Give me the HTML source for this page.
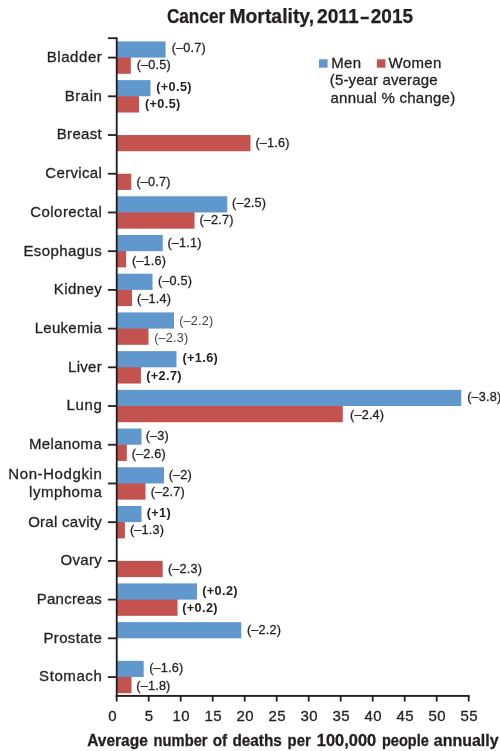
<!DOCTYPE html>
<html lang="en"><head><meta charset="utf-8"><title>Cancer Mortality, 2011–2015</title>
<style>
html,body{margin:0;padding:0;background:#fff;}
body{width:500px;height:751px;overflow:hidden;}
svg{display:block;}
text{font-family:"Liberation Sans",Arial,Helvetica,sans-serif;fill:#231f20;}
.cat,.tick,.leg,.lab{stroke:#231f20;stroke-width:0.3px;}
.cat{font-size:15.0px;letter-spacing:0.4px;text-anchor:end;}
.lab{font-size:12.7px;letter-spacing:0.18px;}
.labl{font-size:12.7px;letter-spacing:0.18px;fill:#444444;}
.labb{font-size:12.7px;font-weight:bold;letter-spacing:0.38px;}
.tick{font-size:15.0px;letter-spacing:0.4px;text-anchor:middle;}
.leg{font-size:15.0px;letter-spacing:0.4px;}
.title{font-size:20px;font-weight:bold;stroke:#231f20;stroke-width:0.25px;}

.xtitle{font-size:16.3px;font-weight:bold;stroke:#231f20;stroke-width:0.3px;}
</style></head><body>
<svg width="500" height="751" viewBox="0 0 500 751">
<rect x="0" y="0" width="500" height="751" fill="#ffffff"/>
<text class="title" y="22.8"><tspan x="166.9" textLength="58.3" lengthAdjust="spacingAndGlyphs">Cancer</tspan> <tspan x="229.4" textLength="84.7" lengthAdjust="spacingAndGlyphs">Mortality,</tspan> <tspan x="316.9" textLength="41.9" lengthAdjust="spacingAndGlyphs">2011</tspan><tspan x="360.2" textLength="8.9" lengthAdjust="spacingAndGlyphs">–</tspan><tspan x="370.8" textLength="42.3" lengthAdjust="spacingAndGlyphs">2015</tspan></text>
<rect x="117.0" y="57.00" width="13.80" height="16.80" fill="#c4524e"/>
<rect x="117.0" y="41.40" width="48.60" height="16.20" fill="#6097cd"/>
<text class="lab" x="171.70" y="51.80">(–0.7)</text>
<text class="lab" x="136.70" y="69.30">(–0.5)</text>
<rect x="107.9" y="56.70" width="8.6" height="1.8" fill="#231f20"/>
<text class="cat" x="102.35" y="62.00" style="letter-spacing:0.550px">Bladder</text>
<rect x="117.0" y="95.72" width="22.00" height="16.80" fill="#c4524e"/>
<rect x="117.0" y="80.11" width="33.50" height="16.20" fill="#6097cd"/>
<text class="labb" x="156.20" y="91.30">(+0.5)</text>
<text class="labb" x="144.95" y="108.05">(+0.5)</text>
<rect x="107.9" y="95.41" width="8.6" height="1.8" fill="#231f20"/>
<text class="cat" x="102.28" y="100.72" style="letter-spacing:0.480px">Brain</text>
<rect x="117.0" y="135.03" width="133.50" height="16.20" fill="#c4524e"/>
<text class="lab" x="255.45" y="147.05">(–1.6)</text>
<rect x="107.9" y="134.13" width="8.6" height="1.8" fill="#231f20"/>
<text class="cat" x="102.15" y="139.43" style="letter-spacing:0.350px">Breast</text>
<rect x="117.0" y="173.75" width="14.25" height="16.20" fill="#c4524e"/>
<text class="lab" x="136.45" y="185.55">(–0.7)</text>
<rect x="107.9" y="172.84" width="8.6" height="1.8" fill="#231f20"/>
<text class="cat" x="102.12" y="178.15" style="letter-spacing:0.320px">Cervical</text>
<rect x="117.0" y="211.86" width="77.50" height="16.80" fill="#c4524e"/>
<rect x="117.0" y="196.26" width="110.30" height="16.20" fill="#6097cd"/>
<text class="lab" x="232.00" y="206.55">(–2.5)</text>
<text class="lab" x="199.45" y="224.05">(–2.7)</text>
<rect x="107.9" y="211.56" width="8.6" height="1.8" fill="#231f20"/>
<text class="cat" x="102.24" y="216.86" style="letter-spacing:0.440px">Colorectal</text>
<rect x="117.0" y="250.58" width="9.10" height="16.80" fill="#c4524e"/>
<rect x="117.0" y="234.98" width="45.75" height="16.20" fill="#6097cd"/>
<text class="lab" x="167.45" y="247.30">(–1.1)</text>
<text class="lab" x="131.95" y="264.80">(–1.6)</text>
<rect x="107.9" y="250.28" width="8.6" height="1.8" fill="#231f20"/>
<text class="cat" x="102.21" y="255.58" style="letter-spacing:0.410px">Esophagus</text>
<rect x="117.0" y="289.29" width="15.00" height="16.80" fill="#c4524e"/>
<rect x="117.0" y="273.69" width="35.50" height="16.20" fill="#6097cd"/>
<text class="lab" x="157.95" y="285.30">(–0.5)</text>
<text class="lab" x="136.95" y="303.05">(–1.4)</text>
<rect x="107.9" y="288.99" width="8.6" height="1.8" fill="#231f20"/>
<text class="cat" x="102.25" y="294.29" style="letter-spacing:0.450px">Kidney</text>
<rect x="117.0" y="328.00" width="31.50" height="16.80" fill="#c4524e"/>
<rect x="117.0" y="312.41" width="57.00" height="16.20" fill="#6097cd"/>
<text class="labl" x="179.20" y="324.80">(–2.2)</text>
<text class="labl" x="154.20" y="341.80">(–2.3)</text>
<rect x="107.9" y="327.71" width="8.6" height="1.8" fill="#231f20"/>
<text class="cat" x="102.10" y="333.00" style="letter-spacing:0.300px">Leukemia</text>
<rect x="117.0" y="366.72" width="23.90" height="16.80" fill="#c4524e"/>
<rect x="117.0" y="351.12" width="59.50" height="16.20" fill="#6097cd"/>
<text class="labb" x="182.45" y="361.80">(+1.6)</text>
<text class="labb" x="146.20" y="379.80">(+2.7)</text>
<rect x="107.9" y="366.42" width="8.6" height="1.8" fill="#231f20"/>
<text class="cat" x="102.12" y="371.72" style="letter-spacing:0.320px">Liver</text>
<rect x="117.0" y="405.44" width="225.80" height="16.80" fill="#c4524e"/>
<rect x="117.0" y="389.84" width="344.25" height="16.20" fill="#6097cd"/>
<text class="lab" x="467.20" y="401.05">(–3.8)</text>
<text class="lab" x="350.00" y="419.30">(–2.4)</text>
<rect x="107.9" y="405.14" width="8.6" height="1.8" fill="#231f20"/>
<text class="cat" x="102.40" y="410.44" style="letter-spacing:0.600px">Lung</text>
<rect x="117.0" y="444.15" width="9.80" height="16.80" fill="#c4524e"/>
<rect x="117.0" y="428.55" width="24.50" height="16.20" fill="#6097cd"/>
<text class="lab" x="145.70" y="439.80">(–3)</text>
<text class="lab" x="131.70" y="457.55">(–2.6)</text>
<rect x="107.9" y="443.85" width="8.6" height="1.8" fill="#231f20"/>
<text class="cat" x="102.20" y="449.15" style="letter-spacing:0.400px">Melanoma</text>
<rect x="117.0" y="482.87" width="28.50" height="16.80" fill="#c4524e"/>
<rect x="117.0" y="467.27" width="47.00" height="16.20" fill="#6097cd"/>
<text class="lab" x="168.70" y="478.80">(–2)</text>
<text class="lab" x="150.70" y="496.30">(–2.7)</text>
<rect x="107.9" y="482.57" width="8.6" height="1.8" fill="#231f20"/>
<text class="cat" x="102.39" y="478.57" style="letter-spacing:0.590px">Non-Hodgkin</text>
<text class="cat" x="102.30" y="497.37" style="letter-spacing:0.500px">lymphoma</text>
<rect x="117.0" y="521.58" width="7.90" height="16.80" fill="#c4524e"/>
<rect x="117.0" y="505.98" width="24.50" height="16.20" fill="#6097cd"/>
<text class="labb" x="146.70" y="516.80">(+1)</text>
<text class="lab" x="129.95" y="534.30">(–1.3)</text>
<rect x="107.9" y="521.28" width="8.6" height="1.8" fill="#231f20"/>
<text class="cat" x="102.08" y="526.58" style="letter-spacing:0.280px">Oral cavity</text>
<rect x="117.0" y="560.90" width="45.70" height="16.20" fill="#c4524e"/>
<text class="lab" x="167.95" y="572.80">(–2.3)</text>
<rect x="107.9" y="560.00" width="8.6" height="1.8" fill="#231f20"/>
<text class="cat" x="102.12" y="565.30" style="letter-spacing:0.320px">Ovary</text>
<rect x="117.0" y="599.01" width="60.50" height="16.80" fill="#c4524e"/>
<rect x="117.0" y="583.41" width="80.00" height="16.20" fill="#6097cd"/>
<text class="labb" x="202.20" y="594.80">(+0.2)</text>
<text class="labb" x="182.20" y="611.80">(+0.2)</text>
<rect x="107.9" y="598.71" width="8.6" height="1.8" fill="#231f20"/>
<text class="cat" x="102.04" y="604.01" style="letter-spacing:0.240px">Pancreas</text>
<rect x="117.0" y="622.12" width="124.30" height="16.20" fill="#6097cd"/>
<text class="lab" x="246.90" y="634.30">(–2.2)</text>
<rect x="107.9" y="637.43" width="8.6" height="1.8" fill="#231f20"/>
<text class="cat" x="102.15" y="642.73" style="letter-spacing:0.350px">Prostate</text>
<rect x="117.0" y="676.44" width="14.50" height="16.80" fill="#c4524e"/>
<rect x="117.0" y="660.84" width="26.70" height="16.20" fill="#6097cd"/>
<text class="lab" x="149.20" y="672.30">(–1.6)</text>
<text class="lab" x="136.30" y="689.80">(–1.8)</text>
<rect x="107.9" y="676.14" width="8.6" height="1.8" fill="#231f20"/>
<text class="cat" x="102.39" y="681.44" style="letter-spacing:0.590px">Stomach</text>
<rect x="115.8" y="37.30" width="1.85" height="659.55" fill="#231f20"/>
<rect x="107.9" y="37.30" width="8.6" height="1.8" fill="#231f20"/>
<rect x="115.8" y="694.95" width="353.80" height="1.9" fill="#231f20"/>
<rect x="115.80" y="695.90" width="1.8" height="5.6" fill="#231f20"/>
<text class="tick" x="112.7" y="721.4">0</text>
<rect x="147.80" y="695.90" width="1.8" height="5.6" fill="#231f20"/>
<text class="tick" x="149.2" y="721.4">5</text>
<rect x="179.80" y="695.90" width="1.8" height="5.6" fill="#231f20"/>
<text class="tick" x="181.2" y="721.4">10</text>
<rect x="211.80" y="695.90" width="1.8" height="5.6" fill="#231f20"/>
<text class="tick" x="213.2" y="721.4">15</text>
<rect x="243.80" y="695.90" width="1.8" height="5.6" fill="#231f20"/>
<text class="tick" x="245.2" y="721.4">20</text>
<rect x="275.80" y="695.90" width="1.8" height="5.6" fill="#231f20"/>
<text class="tick" x="277.2" y="721.4">25</text>
<rect x="307.80" y="695.90" width="1.8" height="5.6" fill="#231f20"/>
<text class="tick" x="309.2" y="721.4">30</text>
<rect x="339.80" y="695.90" width="1.8" height="5.6" fill="#231f20"/>
<text class="tick" x="341.2" y="721.4">35</text>
<rect x="371.80" y="695.90" width="1.8" height="5.6" fill="#231f20"/>
<text class="tick" x="373.2" y="721.4">40</text>
<rect x="403.80" y="695.90" width="1.8" height="5.6" fill="#231f20"/>
<text class="tick" x="405.2" y="721.4">45</text>
<rect x="435.80" y="695.90" width="1.8" height="5.6" fill="#231f20"/>
<text class="tick" x="437.2" y="721.4">50</text>
<rect x="467.80" y="695.90" width="1.8" height="5.6" fill="#231f20"/>
<text class="tick" x="469.2" y="721.4">55</text>
<rect x="319" y="59.3" width="8.6" height="8.4" fill="#6097cd"/>
<text class="leg" x="331.2" y="67.8">Men</text>
<rect x="376.9" y="59.3" width="8.6" height="8.4" fill="#c4524e"/>
<text class="leg" x="388.4" y="67.8">Women</text>
<text class="leg" x="329.8" y="84.7" style="letter-spacing:0.13px">(5-year average</text>
<text class="leg" x="330.5" y="102.6" style="letter-spacing:0.25px">annual % change)</text>
<text class="xtitle" y="745.8"><tspan x="87.2" textLength="60.6" lengthAdjust="spacingAndGlyphs">Average</tspan> <tspan x="153.6" textLength="54.0" lengthAdjust="spacingAndGlyphs">number</tspan> <tspan x="212.8" textLength="14.4" lengthAdjust="spacingAndGlyphs">of</tspan> <tspan x="232.4" textLength="49.4" lengthAdjust="spacingAndGlyphs">deaths</tspan> <tspan x="287.6" textLength="23.2" lengthAdjust="spacingAndGlyphs">per</tspan> <tspan x="316.8" textLength="59.4" lengthAdjust="spacingAndGlyphs">100,000</tspan> <tspan x="382.0" textLength="46.8" lengthAdjust="spacingAndGlyphs">people</tspan> <tspan x="433.8" textLength="64.8" lengthAdjust="spacingAndGlyphs">annually</tspan></text>
</svg></body></html>
